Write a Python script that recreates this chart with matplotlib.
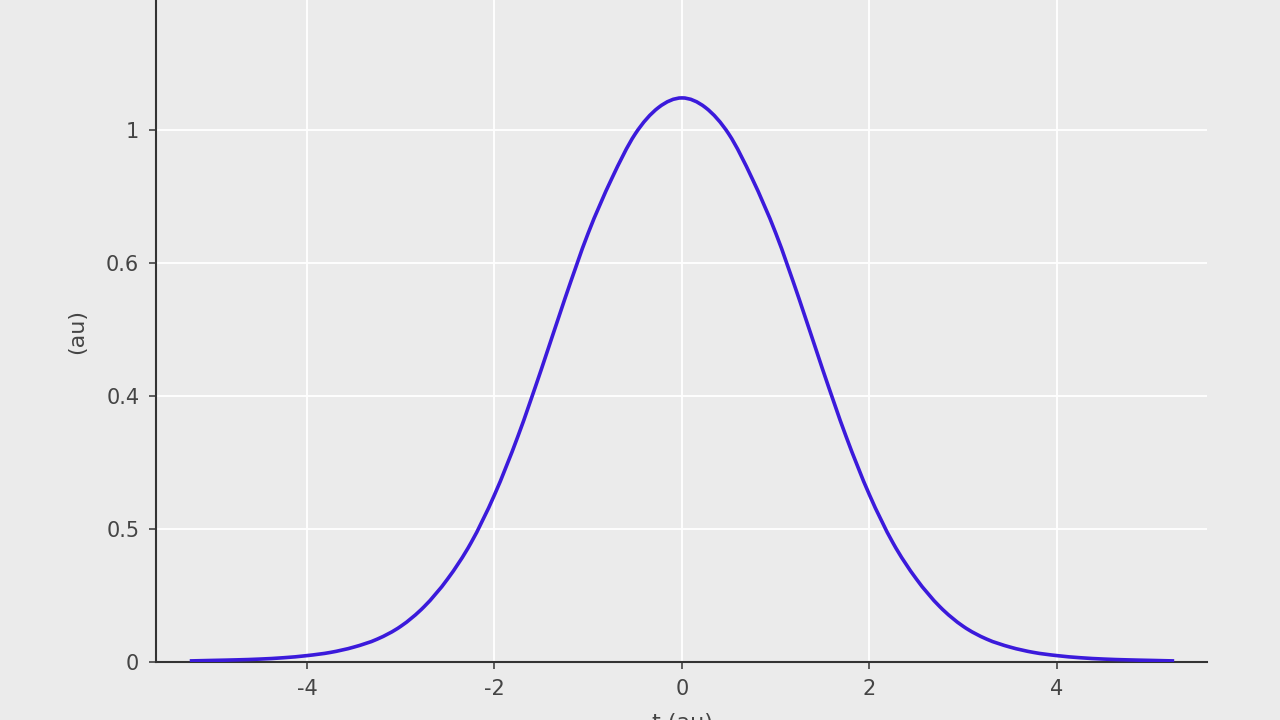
import matplotlib
matplotlib.use("Agg")
import matplotlib.pyplot as plt
from matplotlib.path import Path
from matplotlib.patches import PathPatch

plt.rcParams["axes.unicode_minus"] = False

# curve values (both flanks averaged)
t_vals = [-5.25, -5.0, -4.75, -4.5, -4.25, -4.0, -3.75, -3.5, -3.25, -3.0, -2.75,
          -2.5, -2.25, -2.0, -1.75, -1.5, -1.25, -1.0, -0.75, -0.5, -0.25,
          0.0,
          0.25, 0.5, 0.75, 1.0, 1.25, 1.5, 1.75, 2.0, 2.25, 2.5,
          2.75, 3.0, 3.25, 3.5, 3.75, 4.0, 4.25, 4.5, 4.75, 5.0, 5.25]
amp_vals = [0.002, 0.003, 0.004, 0.0055, 0.008, 0.012, 0.018, 0.028, 0.043, 0.067, 0.104,
            0.156, 0.224, 0.314, 0.424, 0.550, 0.682, 0.806, 0.908, 0.992, 1.042,
            1.060,
            1.042, 0.992, 0.908, 0.806, 0.682, 0.550, 0.424, 0.314, 0.224, 0.156,
            0.104, 0.067, 0.043, 0.028, 0.018, 0.012, 0.008, 0.0055, 0.004, 0.003, 0.002]

x_ticks = [-4, -2, 0, 2, 4]
y_ticks = [0, 0.25, 0.5, 0.75, 1.0]
y_tick_labels = ["0", "0.5", "0.4", "0.6", "1"]


def smooth_path(xs, ys):
    # catmull-rom through the read points, as cubic bezier segments
    pts = list(zip(xs, ys))
    verts = [pts[0]]
    codes = [Path.MOVETO]
    n = len(pts)
    for i in range(n - 1):
        p0 = pts[max(i - 1, 0)]
        p1 = pts[i]
        p2 = pts[i + 1]
        p3 = pts[min(i + 2, n - 1)]
        c1 = (p1[0] + (p2[0] - p0[0]) / 6, p1[1] + (p2[1] - p0[1]) / 6)
        c2 = (p2[0] - (p3[0] - p1[0]) / 6, p2[1] - (p3[1] - p1[1]) / 6)
        verts += [c1, c2, p2]
        codes += [Path.CURVE4] * 3
    return Path(verts, codes)


bg = "#ebebeb"
fig = plt.figure(figsize=(12.8, 7.2), dpi=100, facecolor=bg)
ax = fig.add_axes([156 / 1280, 58 / 720, (1207 - 156) / 1280, 662 / 720])
ax.set_facecolor(bg)

ax.add_patch(PathPatch(smooth_path(t_vals, amp_vals), facecolor="none",
                       edgecolor="#3b1adb", lw=2.6, capstyle="butt", zorder=3))

ax.set_xlim(-5.61, 5.6)
ax.set_ylim(0, 1.244)
ax.set_xticks(x_ticks)
ax.set_xticklabels([str(v) for v in x_ticks])
ax.set_yticks(y_ticks)
ax.set_yticklabels(y_tick_labels)

ax.grid(True, color="white", lw=1.3)
ax.set_axisbelow(True)
for side in ["top", "right"]:
    ax.spines[side].set_visible(False)
for side in ["left", "bottom"]:
    ax.spines[side].set_color("#333333")
    ax.spines[side].set_linewidth(1.5)

ax.tick_params(axis="both", length=5, width=1.2, color="#444444",
               labelcolor="#444444", labelsize=15, pad=7)

ax.set_ylabel("(au)", fontsize=16, color="#444444", labelpad=14)
# x label sits mostly below the bottom edge, as in the reference
fig.text(682 / 1280, -0.004, "t (au)", ha="center", va="center",
         fontsize=16, color="#444444")

fig.savefig("out.png", dpi=100, facecolor=bg)
